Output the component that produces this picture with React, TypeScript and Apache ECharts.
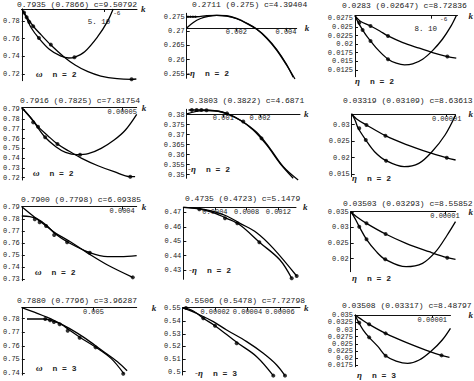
import React, { useEffect, useRef } from "react";
import * as echarts from "echarts";

type Pt = [number, number];

// ---------- titles & labels ----------
const titles = [
  "0.7935 (0.7866) c=9.50792",
  "0.2711 (0.275) c=4.39404",
  "0.0283 (0.02647) c=8.72836",
  "0.7916 (0.7825) c=7.81754",
  "0.3803 (0.3822) c=4.6871",
  "0.03319 (0.03109) c=8.63613",
  "0.7900 (0.7798) c=6.09385",
  "0.4735 (0.4723) c=5.1479",
  "0.03503 (0.03293) c=8.55852",
  "0.7880 (0.7796) c=3.96287",
  "0.5506 (0.5478) c=7.72798",
  "0.03508 (0.03317) c=8.48797",
];
const quantities = ["ω", "-η", "η", "ω", "-η", "η", "ω", "-η", "η", "ω", "-η", "η"];
const orders = [2, 2, 2, 2, 2, 2, 2, 2, 2, 3, 3, 3];
// axis crossing value (value at k = 0)
const crossings = [0.7935, 0.2711, 0.0283, 0.7916, 0.3803, 0.03319, 0.79, 0.4735, 0.03503, 0.788, 0.5506, 0.03508];
const yMins = [0.7124, 0.2535, 0.0105, 0.7176, 0.3481, 0.01426, 0.7289, 0.4236, 0.01577, 0.7385, 0.4974, 0.017];
const yMaxs = [0.7935, 0.2762, 0.0283, 0.7916, 0.38265, 0.03319, 0.79, 0.4735, 0.03503, 0.788, 0.5506, 0.03508];
const kMaxs = [7.0e-6, 0.00443, 1.08e-5, 5.72e-5, 0.00309, 1.093e-5, 4.58e-4, 1.423e-3, 1.112e-5, 8.02e-3, 7.24e-5, 1.235e-5];

// ---------- tick values and labels ----------
const yTicks1 = [0.72, 0.74, 0.76, 0.78];
const yTicks2 = [0.255, 0.26, 0.265, 0.27, 0.275];
const yTicks3 = [0.0125, 0.015, 0.0175, 0.02, 0.0225, 0.025, 0.0275];
const yTicks4 = [0.72, 0.73, 0.74, 0.75, 0.76, 0.77, 0.78, 0.79];
const yTicks5 = [0.35, 0.355, 0.36, 0.365, 0.37, 0.375, 0.38];
const yTicks6 = [0.015, 0.02, 0.025, 0.03];
const yTicks7 = [0.73, 0.74, 0.75, 0.76, 0.77, 0.78, 0.79];
const yTicks8 = [0.43, 0.44, 0.45, 0.46, 0.47];
const yTicks9 = [0.02, 0.025, 0.03, 0.035];
const yTicks10 = [0.74, 0.75, 0.76, 0.77, 0.78];
const yTicks11 = [0.5, 0.51, 0.52, 0.53, 0.54, 0.55];
const yTicks12 = [0.0175, 0.02, 0.0225, 0.025, 0.0275, 0.03, 0.0325, 0.035];

const xTicks1 = [5e-6];
const xLabels1 = ["5. 10|-6"];
const xTicks2 = [0.002, 0.004];
const xLabels2 = ["0.002", "0.004"];
const xTicks3 = [8e-6];
const xLabels3 = ["8. 10|-6"];
const xTicks4 = [0.00005];
const xLabels4 = ["0.00005"];
const xTicks5 = [0.001, 0.002];
const xLabels5 = ["0.001", "0.002"];
const xTicks6 = [0.00001];
const xLabels6 = ["0.00001"];
const xTicks7 = [0.0004];
const xLabels7 = ["0.0004"];
const xTicks8 = [0.0004, 0.0008, 0.0012];
const xLabels8 = ["0.0004", "0.0008", "0.0012"];
const xTicks9 = [0.00001];
const xLabels9 = ["0.00001"];
const xTicks10 = [0.005];
const xLabels10 = ["0.005"];
const xTicks11 = [0.00002, 0.00004, 0.00006];
const xLabels11 = ["0.00002", "0.00004", "0.00006"];
const xTicks12 = [0.00001];
const xLabels12 = ["0.00001"];

// ---------- curves ----------
const p1A: Pt[] = [[0, 0.7935], [0.294e-6, 0.7831], [0.588e-6, 0.7717], [1.04e-6, 0.7604], [1.67e-6, 0.748], [2.35e-6, 0.7404], [2.85e-6, 0.7381], [3.2e-6, 0.7389], [3.82e-6, 0.7452], [4.61e-6, 0.7622], [5.2e-6, 0.7792], [5.55e-6, 0.7935]];
const p1B: Pt[] = [[0, 0.7935], [0.294e-6, 0.7849], [0.688e-6, 0.7743], [1.176e-6, 0.7642], [1.765e-6, 0.7528], [2.55e-6, 0.7396], [3.24e-6, 0.7302], [4.02e-6, 0.7226], [4.8e-6, 0.7177], [5.79e-6, 0.7147], [6.67e-6, 0.714], [6.96e-6, 0.7143]];
const p1Dots: Pt[] = [[0.141e-6, 0.7894], [0.453e-6, 0.7789], [1.04e-6, 0.7608], [3.2e-6, 0.7389], [0.294e-6, 0.7842], [0.688e-6, 0.774], [1.765e-6, 0.7532], [6.67e-6, 0.714]];

const p2A: Pt[] = [[0, 0.2711], [0.000267, 0.273], [0.000536, 0.2743], [0.00087, 0.27514], [0.00121, 0.27549], [0.00161, 0.27524], [0.00201, 0.2743], [0.00241, 0.2727], [0.00282, 0.2706], [0.00322, 0.26746], [0.00362, 0.26338], [0.00402, 0.25814], [0.00436, 0.25326]];
const p2B: Pt[] = [[0, 0.275], [0.000402, 0.275], [0.000805, 0.27535], [0.00121, 0.27549], [0.00161, 0.27535], [0.00201, 0.27444], [0.00241, 0.2728], [0.00282, 0.27071], [0.00322, 0.26767], [0.00362, 0.26362], [0.00402, 0.25838], [0.00429, 0.25385]];
const p2Dots: Pt[] = [[0.00005, 0.275], [0.00015, 0.275], [0.00025, 0.275], [0.00035, 0.275]];

const p3A: Pt[] = [[0, 0.0283], [0.347e-6, 0.02627], [0.8e-6, 0.02414], [1.217e-6, 0.02239], [1.634e-6, 0.02094], [2.43e-6, 0.01832], [3.48e-6, 0.01561], [4.35e-6, 0.01445], [5.22e-6, 0.01395], [6.08e-6, 0.01424], [7.13e-6, 0.01561], [8.17e-6, 0.01812], [9.21e-6, 0.02143], [10.08e-6, 0.0251], [10.67e-6, 0.0283]];
const p3B: Pt[] = [[0, 0.0283], [0.52e-6, 0.02676], [1.634e-6, 0.0253], [2.61e-6, 0.02385], [3.48e-6, 0.02239], [5.04e-6, 0.02045], [6.78e-6, 0.01881], [8.17e-6, 0.01754], [9.73e-6, 0.01638], [10.67e-6, 0.0159]];
const p3Dots: Pt[] = [[0.452e-6, 0.02627], [0.8e-6, 0.02414], [1.634e-6, 0.02094], [3.48e-6, 0.01561], [1.634e-6, 0.0253], [3.48e-6, 0.02239], [9.73e-6, 0.01638]];

const p4A: Pt[] = [[0, 0.7916], [3.24e-6, 0.7841], [6.46e-6, 0.7756], [1.162e-5, 0.7613], [1.694e-5, 0.7517], [2.178e-5, 0.7459], [2.742e-5, 0.7435], [3.306e-5, 0.7445], [3.951e-5, 0.75], [4.596e-5, 0.7585], [5.16e-5, 0.7688], [5.72e-5, 0.7848]];
const p4B: Pt[] = [[0, 0.7916], [4.05e-6, 0.7824], [8.08e-6, 0.7722], [1.291e-5, 0.763], [1.775e-5, 0.7544], [2.339e-5, 0.7473], [2.984e-5, 0.7398], [3.79e-5, 0.7322], [4.596e-5, 0.7261], [5.4e-5, 0.721], [5.64e-5, 0.721]];
const p4Dots: Pt[] = [[5.66e-6, 0.7766], [1.162e-5, 0.7613], [2.9e-5, 0.7434], [8.08e-6, 0.7722], [1.775e-5, 0.7544], [5.4e-5, 0.721]];

const p5A: Pt[] = [[0.00005, 0.3823], [0.000452, 0.3823], [0.000817, 0.3818], [0.00109, 0.38063], [0.001453, 0.3773], [0.001815, 0.3723], [0.00218, 0.3648], [0.002543, 0.35563], [0.002905, 0.34813]];
const p5B: Pt[] = [[0, 0.3803], [0.000452, 0.38197], [0.000817, 0.3818], [0.001134, 0.38013], [0.001499, 0.3768], [0.001907, 0.37113], [0.00227, 0.36313], [0.002633, 0.35397], [0.00304, 0.3473]];
const p5Dots: Pt[] = [[0.00014, 0.3823], [0.00027, 0.3823], [0.0004, 0.3823], [0.00054, 0.3822], [0.0011, 0.3806], [0.001543, 0.3765], [0.00204, 0.3681]];

const p6A: Pt[] = [[0, 0.03319], [3.45e-7, 0.03138], [6.9e-7, 0.02887], [1.483e-6, 0.02534], [2.41e-6, 0.02181], [3.62e-6, 0.0191], [5.52e-6, 0.01728], [7.07e-6, 0.01829], [8.45e-6, 0.02181], [9.83e-6, 0.02685], [1.094e-5, 0.03289]];
const p6B: Pt[] = [[0, 0.03319], [5.18e-7, 0.03168], [1.553e-6, 0.02987], [3.55e-6, 0.02665], [5.69e-6, 0.02404], [8.1e-6, 0.02161], [1.001e-5, 0.01998], [1.094e-5, 0.0193]];
const p6Dots: Pt[] = [[7.94e-7, 0.02887], [1.483e-6, 0.02534], [3.62e-6, 0.0191], [1.553e-6, 0.02987], [3.55e-6, 0.02665], [1.001e-5, 0.01998]];

const p7A: Pt[] = [[0, 0.79], [4.53e-5, 0.78232], [9.68e-5, 0.77406], [1.355e-4, 0.768], [1.871e-4, 0.7619], [2.644e-4, 0.75148], [3.418e-4, 0.74184], [4.424e-4, 0.73166]];
const p7B: Pt[] = [[0, 0.78232], [3.24e-5, 0.78176], [5.81e-5, 0.7804], [9.68e-5, 0.77488], [1.355e-4, 0.76718], [1.871e-4, 0.76029], [2.709e-4, 0.75203], [3.418e-4, 0.74872], [3.934e-4, 0.74872], [4.579e-4, 0.74955]];
const p7Dots: Pt[] = [[5.17e-5, 0.77957], [9.68e-5, 0.77406], [1.806e-4, 0.76057], [4.424e-4, 0.73166], [7.1e-5, 0.7771], [1.29e-4, 0.76662], [2.709e-4, 0.75203]];

const p8A: Pt[] = [[0, 0.4735], [1.688e-4, 0.47279], [3.371e-4, 0.47116], [5.476e-4, 0.46747], [7.159e-4, 0.46239], [9.264e-4, 0.45592], [1.1367e-3, 0.44507], [1.4314e-3, 0.42589]];
const p8B: Pt[] = [[0, 0.4735], [2.109e-4, 0.47232], [3.792e-4, 0.46978], [5.476e-4, 0.46586], [7.159e-4, 0.46123], [9.684e-4, 0.44899], [1.221e-3, 0.43698], [1.3683e-3, 0.42428]];
const p8Dots: Pt[] = [[2.024e-4, 0.47209], [5.265e-4, 0.46586], [6.822e-4, 0.46239], [9.6e-4, 0.44922], [1.4314e-3, 0.42589], [1.3683e-3, 0.42428]];

const p9A: Pt[] = [[0, 0.03503], [4.51e-7, 0.0329], [9.06e-7, 0.03022], [1.676e-6, 0.02616], [2.725e-6, 0.0222], [3.669e-6, 0.01974], [5.873e-6, 0.01738], [7.621e-6, 0.01846], [9.021e-6, 0.0222], [1.0245e-5, 0.02755], [1.112e-5, 0.03183]];
const p9B: Pt[] = [[0, 0.03503], [6.26e-7, 0.03343], [1.676e-6, 0.0313], [3.704e-6, 0.02787], [5.873e-6, 0.02488], [8.321e-6, 0.0222], [1.0245e-5, 0.02027], [1.112e-5, 0.01974]];
const p9Dots: Pt[] = [[9.06e-7, 0.03022], [1.676e-6, 0.02616], [3.669e-6, 0.01974], [1.676e-6, 0.0313], [3.704e-6, 0.02787], [1.0245e-5, 0.02027]];

const p10A: Pt[] = [[0, 0.788], [1.077e-3, 0.78386], [2.197e-3, 0.77895], [3.317e-3, 0.77282], [4.437e-3, 0.76546], [5.557e-3, 0.75687], [6.677e-3, 0.74828], [7.35e-3, 0.74165]];
const p10B: Pt[] = [[3.6e-4, 0.77968], [1.525e-3, 0.77968], [1.973e-3, 0.77895], [2.757e-3, 0.77576], [3.317e-3, 0.77159], [4.101e-3, 0.76594], [5.109e-3, 0.75932], [6.229e-3, 0.75074], [7.125e-3, 0.73943]];
const p10Dots: Pt[] = [[1.637e-3, 0.77968], [1.973e-3, 0.7787], [2.242e-3, 0.77748], [2.645e-3, 0.77576], [3.205e-3, 0.7711], [4.034e-3, 0.76594], [5.154e-3, 0.75883], [7.08e-3, 0.73943]];

const p11A: Pt[] = [[0, 0.5506], [1.067e-5, 0.54483], [1.89e-5, 0.53956], [2.714e-5, 0.53298], [3.949e-5, 0.52376], [4.975e-5, 0.51455], [5.799e-5, 0.50533], [6.313e-5, 0.4969]];
const p11B: Pt[] = [[0, 0.5506], [6.56e-6, 0.54799], [1.273e-5, 0.5422], [1.993e-5, 0.5364], [3.331e-5, 0.52324], [4.566e-5, 0.51191], [5.592e-5, 0.4969]];
const p11Dots: Pt[] = [[2.0e-6, 0.5503], [1.273e-5, 0.5422], [1.993e-5, 0.5364], [3.331e-5, 0.52245], [6.313e-5, 0.4969], [5.592e-5, 0.4969]];

const p12A: Pt[] = [[0, 0.03508], [4.26e-7, 0.03275], [1.064e-6, 0.02983], [1.83e-6, 0.02726], [2.98e-6, 0.024], [3.959e-6, 0.02085], [5.321e-6, 0.01898], [6.811e-6, 0.01816], [8.301e-6, 0.01933], [1.0003e-5, 0.02283], [1.128e-5, 0.02633], [1.2345e-5, 0.03041]];
const p12B: Pt[] = [[0, 0.03508], [6.39e-7, 0.03391], [1.83e-6, 0.03181], [3.959e-6, 0.02866], [6.598e-6, 0.02551], [9.152e-6, 0.02283], [1.128e-5, 0.02085], [1.2217e-5, 0.02026]];
const p12Dots: Pt[] = [[5.53e-7, 0.0324], [1.83e-6, 0.02726], [3.959e-6, 0.02085], [1.83e-6, 0.03181], [3.959e-6, 0.02866], [1.1195e-5, 0.02096]];

const curvesA = [p1A, p2A, p3A, p4A, p5A, p6A, p7A, p8A, p9A, p10A, p11A, p12A];
const curvesB = [p1B, p2B, p3B, p4B, p5B, p6B, p7B, p8B, p9B, p10B, p11B, p12B];
const dotSets = [p1Dots, p2Dots, p3Dots, p4Dots, p5Dots, p6Dots, p7Dots, p8Dots, p9Dots, p10Dots, p11Dots, p12Dots];
const yTickSets = [yTicks1, yTicks2, yTicks3, yTicks4, yTicks5, yTicks6, yTicks7, yTicks8, yTicks9, yTicks10, yTicks11, yTicks12];
const xTickSets = [xTicks1, xTicks2, xTicks3, xTicks4, xTicks5, xTicks6, xTicks7, xTicks8, xTicks9, xTicks10, xTicks11, xTicks12];
const xLabelSets = [xLabels1, xLabels2, xLabels3, xLabels4, xLabels5, xLabels6, xLabels7, xLabels8, xLabels9, xLabels10, xLabels11, xLabels12];

// ---------- layout (pixels) ----------
// plot boxes: [left, top, right, bottom]
const boxes: [number, number, number, number][] = [
  [18.3, 9, 137, 80.7],
  [186.7, 13.3, 296.7, 78.3],
  [355, 15.7, 458.3, 76.7],
  [18.3, 107.7, 136.7, 180],
  [186.7, 109.3, 300, 178.3],
  [351.7, 114, 457.3, 176.7],
  [18.3, 206.7, 136.7, 280.7],
  [183.3, 207.3, 296, 279.3],
  [350.7, 211.7, 456.7, 271.7],
  [17.3, 307.7, 136.7, 375],
  [182.7, 307.7, 300, 375],
  [355, 315, 451.7, 366.7],
];
const titlePos: [number, number][] = [
  [17, 0], [192, 0], [342, 1], [20, 96], [189, 96], [343, 96],
  [21, 195], [185, 194], [343, 199], [17, 296], [185, 296], [342, 301],
];
const labelPos: [number, number][] = [
  [36, 65], [187, 64], [355, 72], [33, 164], [188, 160], [352, 169],
  [35, 263], [189, 261], [352, 269], [36, 359], [195, 364], [357, 366],
];
const kGaps = [4, 8, 11, 5, 4, 13, 5, 7, 13, 15, 4, 18];

const MONO = "Liberation Mono, DejaVu Sans Mono, monospace";
const SERIF = "Liberation Serif, DejaVu Serif, serif";

function buildOption() {
  const grid: any[] = [];
  const xAxis: any[] = [];
  const yAxis: any[] = [];
  const series: any[] = [];
  const title: any[] = [];

  boxes.forEach((bx, i) => {
    const [l, t, r, b] = bx;
    const h = b - t;
    grid.push({ left: l, top: t, width: r - l, height: h });
    const off = -((yMaxs[i] - crossings[i]) / (yMaxs[i] - yMins[i])) * h;
    const labs = xLabelSets[i];
    const ticks = xTickSets[i];
    xAxis.push({
      gridIndex: i,
      type: "value",
      position: "top",
      offset: off,
      min: 0,
      max: kMaxs[i],
      axisLine: { show: true, onZero: false, lineStyle: { color: "#111", width: 1 } },
      axisTick: { show: true, inside: true, length: 3, customValues: ticks, lineStyle: { color: "#111" } },
      axisLabel: {
        inside: true,
        margin: 1,
        customValues: ticks,
        color: "#222",
        fontFamily: MONO,
        fontSize: 7,
        formatter: (v: number) => {
          let idx = 0;
          let best = Infinity;
          ticks.forEach((tv, j) => {
            const d = Math.abs(tv - v);
            if (d < best) { best = d; idx = j; }
          });
          const s = labs[idx];
          if (s.indexOf("|") >= 0) {
            const [m, e] = s.split("|");
            return `{b|${m}}{s|${e}}`;
          }
          return s;
        },
        rich: {
          b: { fontFamily: MONO, fontSize: 7.5, color: "#222", lineHeight: 16, verticalAlign: "bottom" },
          s: { fontFamily: MONO, fontSize: 6, color: "#222", lineHeight: 16, verticalAlign: "top", padding: [0, 0, 0, 3] },
        },
      },
      splitLine: { show: false },
      name: "k",
      nameLocation: "end",
      nameGap: kGaps[i],
      nameTextStyle: { fontFamily: SERIF, fontStyle: "italic", fontWeight: "bold", fontSize: 9, color: "#222", padding: [5, 0, 0, 0] },
    });
    const yt = yTickSets[i];
    yAxis.push({
      gridIndex: i,
      type: "value",
      min: yMins[i],
      max: yMaxs[i],
      axisLine: { show: true, onZero: false, lineStyle: { color: "#111", width: 1 } },
      axisTick: { show: true, inside: true, length: 3, customValues: yt, lineStyle: { color: "#111" } },
      axisLabel: {
        customValues: yt,
        margin: 2,
        color: "#222",
        fontFamily: MONO,
        fontSize: 7,
        formatter: (v: number) => String(parseFloat(v.toPrecision(6))),
      },
      splitLine: { show: false },
    });
    const lineBase = {
      type: "line",
      xAxisIndex: i,
      yAxisIndex: i,
      smooth: 0.35,
      showSymbol: false,
      clip: false,
      lineStyle: { color: "#000", width: 1.3 },
      silent: true,
    };
    series.push({ ...lineBase, data: curvesA[i] });
    series.push({ ...lineBase, data: curvesB[i] });
    series.push({
      type: "scatter",
      xAxisIndex: i,
      yAxisIndex: i,
      data: dotSets[i],
      symbolSize: i === 1 ? 2.5 : 4,
      clip: false,
      itemStyle: { color: "#000" },
      silent: true,
    });
    title.push({
      text: titles[i],
      left: titlePos[i][0],
      top: titlePos[i][1],
      padding: 0,
      textStyle: { fontFamily: MONO, fontSize: 8, fontWeight: "normal", color: "#222" },
    });
    title.push({
      text: `{g|${quantities[i]}}  {m|n = ${orders[i]}}`,
      left: labelPos[i][0],
      top: labelPos[i][1],
      padding: 0,
      textStyle: {
        rich: {
          g: { fontFamily: SERIF, fontStyle: "italic", fontSize: 9, color: "#222" },
          m: { fontFamily: MONO, fontSize: 8, color: "#222" },
        },
      },
    });
  });

  return {
    animation: false,
    backgroundColor: "#fff",
    title,
    grid,
    xAxis,
    yAxis,
    series,
  };
}

export default function App() {
  const ref = useRef<HTMLDivElement>(null);
  useEffect(() => {
    if (!ref.current) return;
    const chart = echarts.init(ref.current, undefined, { renderer: "svg" });
    chart.setOption(buildOption() as any);
    return () => chart.dispose();
  }, []);
  return (
    <div
      ref={ref}
      style={{ position: "fixed", left: 0, top: 0, width: 474, height: 381, background: "#fff" }}
    />
  );
}
